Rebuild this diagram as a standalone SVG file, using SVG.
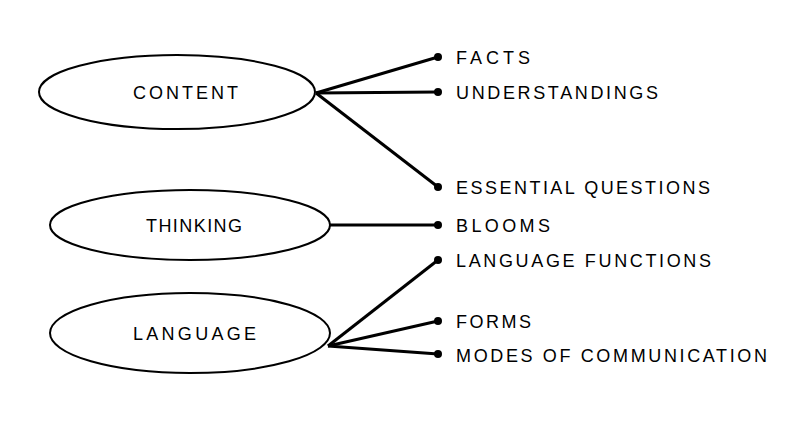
<svg xmlns="http://www.w3.org/2000/svg" width="791" height="429" viewBox="0 0 791 429">
<style>
.n{fill:#fff;stroke:#000;stroke-width:2}
.t{font-family:"Liberation Sans",Arial,sans-serif;font-size:18px;fill:#000}
.c line{stroke:#000;stroke-width:3}
.c circle{fill:#000}
</style>
<rect width="791" height="429" fill="#fff"/>
<g id="content"><ellipse class="n" cx="177" cy="92" rx="138" ry="37"/><text class="t" x="133" y="99" textLength="105" lengthAdjust="spacing">CONTENT</text></g>
<g id="thinking"><ellipse class="n" cx="190" cy="225" rx="140" ry="35"/><text class="t" x="146" y="232" textLength="96" lengthAdjust="spacing">THINKING</text></g>
<g id="language"><ellipse class="n" cx="190" cy="333" rx="140" ry="40"/><text class="t" x="133" y="340" textLength="123" lengthAdjust="spacing">LANGUAGE</text></g>
<g class="c" id="connectors">
<line x1="316" y1="93" x2="438" y2="57"/><line x1="316" y1="93" x2="438" y2="92"/><line x1="316" y1="93" x2="438" y2="187"/>
<line x1="330" y1="225" x2="438" y2="225"/>
<line x1="328" y1="346" x2="438" y2="260"/><line x1="328" y1="346" x2="438" y2="321"/><line x1="328" y1="346" x2="438" y2="354"/>
<circle cx="438" cy="57" r="4"/><circle cx="438" cy="92" r="4"/><circle cx="438" cy="187" r="4"/><circle cx="438" cy="225" r="4"/><circle cx="438" cy="260" r="4"/><circle cx="438" cy="321" r="4"/><circle cx="438" cy="354" r="4"/>
</g>
<g id="labels">
<text class="t" x="456" y="64" textLength="74" lengthAdjust="spacing">FACTS</text>
<text class="t" x="456" y="99" textLength="202" lengthAdjust="spacing">UNDERSTANDINGS</text>
<text class="t" x="456" y="194" textLength="254" lengthAdjust="spacing">ESSENTIAL QUESTIONS</text>
<text class="t" x="456" y="232" textLength="94" lengthAdjust="spacing">BLOOMS</text>
<text class="t" x="456" y="267" textLength="255" lengthAdjust="spacing">LANGUAGE FUNCTIONS</text>
<text class="t" x="456" y="328" textLength="75" lengthAdjust="spacing">FORMS</text>
<text class="t" x="456" y="362" textLength="311" lengthAdjust="spacing">MODES OF COMMUNICATION</text>
</g>
</svg>
